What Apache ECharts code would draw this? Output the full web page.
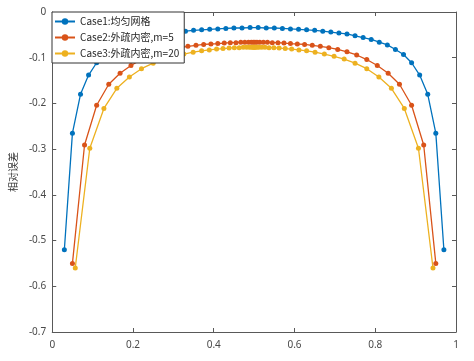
<!DOCTYPE html>
<html><head><meta charset="utf-8">
<script src="https://cdn.jsdelivr.net/npm/echarts@6/dist/echarts.min.js"></script>
<style>html,body{margin:0;padding:0;background:#fff}#c{width:474px;height:361px}</style>
</head><body><div id="c"></div>
<script>
const seriesNames = ['Case1:均匀网格', 'Case2:外疏内密,m=5', 'Case3:外疏内密,m=20'];
const yAxisName = '相对误差';
const xTicks = [0, 0.2, 0.4, 0.6, 0.8, 1];

const case1X = [0.03,0.05,0.07,0.09,0.11,0.13,0.15,0.17,0.19,0.21,0.23,0.25,0.27,0.29,0.31,0.33,0.35,0.37,0.39,0.41,0.43,0.45,0.47,0.49,
  0.51,0.53,0.55,0.57,0.59,0.61,0.63,0.65,0.67,0.69,0.71,0.73,0.75,0.77,0.79,0.81,0.83,0.85,0.87,0.89,0.91,0.93,0.95,0.97];
const case1Y = [-0.520,-0.265,-0.180,-0.138,-0.111,-0.093,-0.082,-0.072,-0.066,-0.060,-0.056,-0.052,-0.048,-0.046,-0.044,-0.042,-0.040,-0.039,-0.038,-0.037,-0.036,-0.035,-0.035,-0.034,
  -0.034,-0.035,-0.035,-0.036,-0.037,-0.038,-0.039,-0.040,-0.042,-0.044,-0.046,-0.048,-0.052,-0.056,-0.060,-0.066,-0.072,-0.082,-0.093,-0.111,-0.138,-0.180,-0.265,-0.520];

const case2X = [0.050,0.080,0.110,0.140,0.168,0.195,0.221,0.246,0.270,0.293,0.315,0.336,0.356,0.375,0.393,0.410,0.426,0.441,0.455,0.467,0.477,0.486,0.493,0.498,
  0.502,0.507,0.514,0.523,0.533,0.545,0.559,0.574,0.590,0.607,0.625,0.644,0.664,0.685,0.707,0.730,0.754,0.779,0.805,0.832,0.860,0.890,0.920,0.950];
const case2Y = [-0.550,-0.291,-0.204,-0.158,-0.134,-0.117,-0.104,-0.094,-0.087,-0.082,-0.078,-0.075,-0.073,-0.071,-0.070,-0.069,-0.068,-0.067,-0.067,-0.066,-0.066,-0.066,-0.066,-0.066,
  -0.066,-0.066,-0.066,-0.066,-0.066,-0.067,-0.067,-0.068,-0.069,-0.070,-0.071,-0.073,-0.075,-0.078,-0.082,-0.087,-0.094,-0.104,-0.117,-0.134,-0.158,-0.204,-0.291,-0.550];

const case3X = [0.057,0.093,0.128,0.160,0.191,0.221,0.250,0.277,0.302,0.326,0.349,0.370,0.389,0.407,0.423,0.438,0.451,0.463,0.473,0.481,0.488,0.493,0.497,0.499,
  0.501,0.503,0.507,0.512,0.519,0.527,0.537,0.549,0.562,0.577,0.593,0.611,0.630,0.651,0.674,0.698,0.723,0.750,0.779,0.809,0.840,0.872,0.907,0.943];
const case3Y = [-0.560,-0.298,-0.211,-0.167,-0.142,-0.124,-0.112,-0.103,-0.097,-0.092,-0.088,-0.085,-0.083,-0.081,-0.080,-0.079,-0.078,-0.078,-0.077,-0.077,-0.077,-0.077,-0.077,-0.077,
  -0.077,-0.077,-0.077,-0.077,-0.077,-0.077,-0.078,-0.078,-0.079,-0.080,-0.081,-0.083,-0.085,-0.088,-0.092,-0.097,-0.103,-0.112,-0.124,-0.142,-0.167,-0.211,-0.298,-0.560];

const colors = ['#0072BD', '#D95319', '#EDB120'];
const pair = (xs, ys) => xs.map((x, i) => [x, ys[i]]);
const allX = [case1X, case2X, case3X];
const allY = [case1Y, case2Y, case3Y];

const axisCol = '#595959';
const labelStyle = { color: '#4a4a4a', fontSize: 10, fontFamily: 'Noto Sans, sans-serif' };
const baseX = { type: 'value', min: 0, max: 1, interval: 0.2, splitLine: { show: false },
  axisLine: { show: true, onZero: false, lineStyle: { color: axisCol, width: 1 } },
  axisTick: { show: true, inside: true, length: 4, lineStyle: { color: axisCol } } };
const baseY = { type: 'value', min: -0.7, max: 0, interval: 0.1, splitLine: { show: false },
  axisLine: { show: true, onZero: false, lineStyle: { color: axisCol, width: 1 } },
  axisTick: { show: true, inside: true, length: 4, lineStyle: { color: axisCol } } };

const chart = echarts.init(document.getElementById('c'), null, { renderer: 'canvas' });
chart.setOption({
  animation: false,
  backgroundColor: '#fff',
  grid: { left: 49, right: 18, top: 12, bottom: 29, containLabel: false },
  legend: {
    data: seriesNames, orient: 'vertical', left: 52, top: 12,
    backgroundColor: '#fff', borderColor: '#333', borderWidth: 1, borderRadius: 0,
    padding: [3, 5, 3, 2], itemGap: 3, itemWidth: 20, itemHeight: 8,
    textStyle: { color: '#262626', fontSize: 10, lineHeight: 13, fontFamily: 'Noto Sans CJK SC, Noto Sans, sans-serif' }
  },
  xAxis: [
    Object.assign({}, baseX, { position: 'bottom', axisLabel: Object.assign({ margin: 8, formatter: v => String(v) }, labelStyle) }),
    Object.assign({}, baseX, { position: 'top', axisLabel: { show: false } })
  ],
  yAxis: [
    Object.assign({}, baseY, { position: 'left', name: yAxisName, nameLocation: 'middle', nameGap: 26,
      nameTextStyle: { color: '#333', fontSize: 10, fontFamily: 'Noto Sans CJK SC, sans-serif' },
      axisLabel: Object.assign({ margin: 6, formatter: v => String(Math.round(v * 10) / 10) }, labelStyle) }),
    Object.assign({}, baseY, { position: 'right', axisLabel: { show: false } })
  ],
  series: seriesNames.map((name, k) => ({
    name, type: 'line', xAxisIndex: 0, yAxisIndex: 0,
    data: pair(allX[k], allY[k]),
    symbol: 'circle', symbolSize: 5, showSymbol: true,
    lineStyle: { color: colors[k], width: 1.3 },
    itemStyle: { color: colors[k] },
    color: colors[k]
  }))
});
</script></body></html>
